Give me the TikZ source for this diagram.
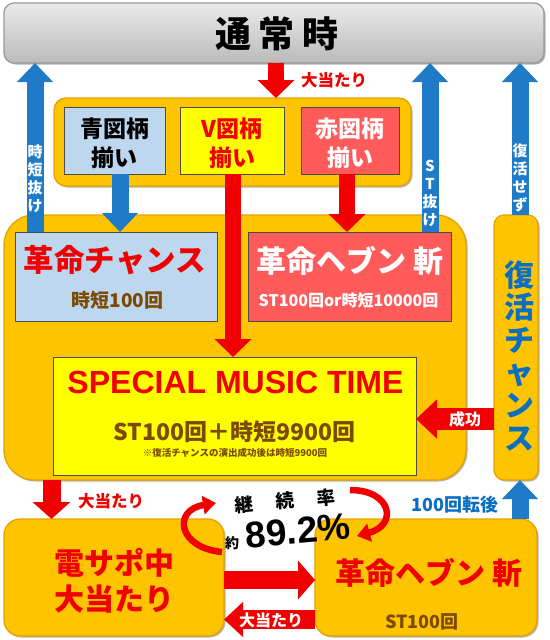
\documentclass[tikz,border=0pt]{standalone}
\usepackage{fontspec}
\newfontfamily\jp{Noto Sans CJK JP}
\newfontfamily\ar{Liberation Sans}
\usetikzlibrary{arrows.meta,shadows,calc}
\definecolor{yfill}{HTML}{FFC400}
\definecolor{ybord}{HTML}{E8A200}
\definecolor{lblue}{HTML}{BDD7EE}
\definecolor{rbox}{HTML}{FF5B5B}
\definecolor{yel}{HTML}{FFFF00}
\definecolor{ablue}{HTML}{1F7AC8}
\definecolor{tblue}{HTML}{0A6FC2}
\definecolor{brn}{HTML}{7B4A00}
\definecolor{rred}{HTML}{F00000}
\newcommand\fsz[2]{\fontsize{#1}{#2}\selectfont}
\begin{document}
\begin{tikzpicture}[x=1pt,y=-1pt,
  yellowbox/.style={draw=ybord,fill=yfill,line width=1.3pt,inner sep=0pt,outer sep=0pt,
     drop shadow={shadow xshift=1.5pt,shadow yshift=-1.5pt,opacity=.3,fill=black}},
  panel/.style={draw=black!70,line width=0.8pt,inner sep=0pt,outer sep=0pt},
  bluearr/.style={draw=ablue,line width=17pt,-{Triangle[width=35pt,length=19pt]}},
  redarr/.style={draw=rred,line width=16pt,-{Triangle[width=36pt,length=18pt]}},
  redcurve/.style={draw=rred,line width=6.5pt,-{Triangle[width=18pt,length=13pt]}},
  jb/.style={font=\jp\bfseries\fsz{#1}{#1},inner sep=0pt},
  vtext/.style={align=center,inner sep=0pt}
]
\useasboundingbox (0,0) rectangle (549,640);
\fill[white] (0,0) rectangle (549,640);

% boxes
\node[draw=black!40,line width=1.2pt,top color=black!8,bottom color=black!27,rounded corners=10pt,
      minimum width=540pt,minimum height=60pt,inner sep=0pt,outer sep=0pt,
      drop shadow={shadow xshift=1.5pt,shadow yshift=-1.5pt,opacity=.3,fill=black}] (top) at (274,33) {};
\node[yellowbox,rounded corners=12pt,minimum width=357pt,minimum height=88pt] (grp) at (232.5,142) {};
\node[panel,fill=lblue,minimum width=101pt,minimum height=67pt] (ao) at (114.5,140.5) {};
\node[panel,fill=yel,minimum width=104pt,minimum height=67pt] (vz) at (232,140.5) {};
\node[panel,fill=rbox,minimum width=98pt,minimum height=67pt] (aka) at (350,140.5) {};
\node[yellowbox,rounded corners=30pt,minimum width=462pt,minimum height=265pt] (big) at (235,347.5) {};
\node[panel,fill=lblue,minimum width=202pt,minimum height=89pt] (kc) at (116,276.5) {};
\node[panel,fill=rbox,minimum width=203pt,minimum height=89pt] (kh) at (349.5,276.5) {};
\node[panel,fill=yel,minimum width=363pt,minimum height=118pt] (smt) at (234.5,416) {};
\node[yellowbox,rounded corners=10pt,minimum width=44pt,minimum height=265pt] (fk) at (516,347.5) {};
\node[yellowbox,rounded corners=16pt,minimum width=220pt,minimum height=117pt] (ds) at (114,577.5) {};
\node[yellowbox,rounded corners=16pt,minimum width=222pt,minimum height=117pt] (kh2) at (426,577.5) {};

% helper coordinates
\coordinate (xa) at (35,0);
\coordinate (xb) at (120,0);
\coordinate (xc) at (233,0);
\coordinate (xd) at (276,0);
\coordinate (xe) at (347,0);
\coordinate (xf) at (430,0);
\coordinate (xg) at (520,0);
\coordinate (xh) at (51.5,0);
\coordinate (yc) at (0,419);
\coordinate (ya) at (0,580);
\coordinate (yb) at (0,619.5);

% arrows
\draw[bluearr] (kc.north -| xa) -- (top.south -| xa);
\draw[bluearr] (kh.north -| xf) -- (top.south -| xf);
\draw[bluearr] (fk.north -| xg) -- (top.south -| xg);
\draw[bluearr] (ao.south -| xb) -- (kc.north -| xb);
\draw[redarr] (top.south -| xd) -- (grp.north -| xd);
\draw[redarr] (vz.south -| xc) -- (smt.north -| xc);
\draw[redarr] (aka.south -| xe) -- (kh.north -| xe);
\draw[redarr,line width=22pt,-{Triangle[width=38pt,length=21pt]}] (fk.west |- yc) -- (smt.east |- yc);
\draw[redarr,line width=18pt,-{Triangle[width=37pt,length=17pt]}] (big.south -| xh) -- (ds.north -| xh);
\draw[bluearr] (kh2.north -| xg) -- (fk.south -| xg);
\draw[redarr,line width=18pt,-{Triangle[width=38pt,length=17pt]}] (ds.east |- ya) -- (kh2.west |- ya);
\draw[redarr,line width=19pt,-{Triangle[width=34pt,length=19pt]}] (kh2.west |- yb) -- (ds.east |- yb);

% curved arrows
\coordinate (c1s) at (222,552);
\coordinate (c1e) at (216,503);
\coordinate (c2s) at (350,490);
\coordinate (c2e) at (357,536);
\draw[redcurve] (c1s) .. controls (178,548) and (172,510) .. (c1e);
\draw[redcurve] (c2s) .. controls (392,490) and (398,525) .. (c2e);

% texts
\node[jb=36] (ttop) at (277,34) {通\hspace{8pt}常\hspace{8pt}時};
\node[jb=16.5,text=rred] (tl1) at (334,80.5) {大当たり};
\node[jb=15,text=white,vtext,font=\jp\bfseries\fsz{15}{18}] (tl2) at (35,179) {時\\短\\抜\\け};
\node[jb=15,text=white,vtext,font=\jp\bfseries\fsz{15}{18}] (tl3) at (430,193) {S\\T\\抜\\け};
\node[jb=15,text=white,vtext,font=\jp\bfseries\fsz{15}{18}] (tl4) at (520,178) {復\\活\\せ\\ず};
\node[jb=23,vtext,font=\jp\bfseries\fsz{23}{29}] (tao) at (114.5,143) {青図柄\\揃い};
\node[jb=23,vtext,text=rred,font=\jp\bfseries\fsz{23}{29}] (tvz) at (232,143) {V図柄\\揃い};
\node[jb=23,vtext,text=white,font=\jp\bfseries\fsz{23}{29}] (taka) at (350,143) {赤図柄\\揃い};
\node[jb=30.5,text=rred] (tkc1) at (115,260) {革命チャンス};
\node[jb=19,text=brn] (tkc2) at (117.5,300) {時短100回};
\node[jb=30,text=white] (tkh1) at (350,261) {革命ヘブン 斬};
\node[jb=16,text=white] (tkh2) at (348.5,300) {ST100回or時短10000回};
\node[font=\ar\bfseries\fsz{32}{32},text=rred,inner sep=0pt] (tsmt1) at (235.5,382.5) {SPECIAL MUSIC TIME};
\node[jb=23,text=brn] (tsmt2) at (234.5,432) {ST100回＋時短9900回};
\node[jb=9.5,text=brn] (tsmt3) at (235,453) {※復活チャンスの演出成功後は時短9900回};
\node[jb=16,text=white] (tsk) at (465,419) {成功};
\node[jb=30,vtext,text=tblue,font=\jp\bfseries\fsz{30}{32.6}] (tfk) at (519,355.5) {復\\活\\チ\\ャ\\ン\\ス};
\node[jb=16.5,text=rred] (tl5) at (111,501.5) {大当たり};
\node[jb=30,vtext,text=rred,font=\jp\bfseries\fsz{30}{36.5}] (tds) at (114,581) {電サポ中\\大当たり};
\node[jb=30,text=rred] (tkh3) at (429,573) {革命ヘブン 斬};
\node[jb=18,text=brn] (tkh4) at (422,622) {ST100回};
\node[jb=18,text=tblue] (tl6) at (455,505) {100回転後};
\node[jb=16,text=white] (tl7) at (271,620.5) {大当たり};
\node[jb=18.5,rotate=5] (tkz) at (285,501) {継\hspace{23pt}続\hspace{23pt}率};
\node[font=\ar\bfseries\fsz{37}{37},inner sep=0pt,rotate=5] (tpct) at (298,531) {89.2\%};
\node[jb=14] (tyaku) at (232,543) {約};
\end{tikzpicture}
\end{document}
